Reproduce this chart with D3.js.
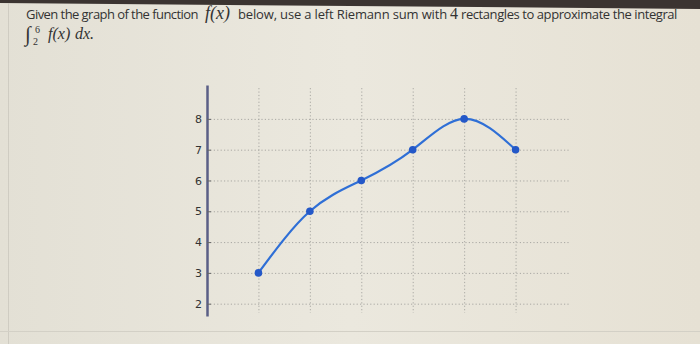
<!DOCTYPE html>
<html>
<head>
<meta charset="utf-8">
<script src="https://cdn.jsdelivr.net/npm/d3@7"></script>
<style>
html,body{margin:0;padding:0;background:#e7e4d9;}
svg{display:block;}
</style>
</head>
<body>
<svg id="chart" width="700" height="344"></svg>
<script>
// Data
const xValues = [1, 2, 3, 4, 5, 6];
const yValues = [3, 5, 6, 7, 8, 7];
const yTicks = [2, 3, 4, 5, 6, 7, 8];
const xGrid = [1, 2, 3, 4, 5, 6];
const questionParts = [
  {text: "Given the graph of the function", math: false, x0: 26, x1: 198},
  {text: "f(x)", math: true, x0: 205, x1: 232},
  {text: "below, use a left Riemann sum with", math: false, x0: 238, x1: 447},
  {text: "4", math: "num", x0: 450, x1: 457},
  {text: "rectangles to approximate the integral", math: false, x0: 461, x1: 677}
];

const svg = d3.select("#chart");
const W = 700, H = 344;

// background with subtle gradient (photo look)
const defs = svg.append("defs");
const grad = defs.append("linearGradient").attr("id","bg").attr("x1","0").attr("x2","1").attr("y1","0").attr("y2","0");
grad.append("stop").attr("offset","0").attr("stop-color","#e3e0d5");
grad.append("stop").attr("offset","0.5").attr("stop-color","#ebe8de");
grad.append("stop").attr("offset","1").attr("stop-color","#e6e1d4");
svg.append("rect").attr("width",W).attr("height",H).attr("fill","url(#bg)");

// dark top band
svg.append("path").attr("d","M0,0H700V9L0,3Z").attr("fill","#3b3431");
// left border line and bottom divider
svg.append("line").attr("x1",8.5).attr("x2",8.5).attr("y1",3).attr("y2",344).attr("stroke","#cfccc2").attr("stroke-width",1);
svg.append("line").attr("x1",0).attr("x2",700).attr("y1",331.5).attr("y2",331.5).attr("stroke","#d3d0c6").attr("stroke-width",1);

// Title text segments: fit each into its span with letter-spacing
svg.append("g").selectAll("text").data(questionParts).join("text")
  .attr("x", d => d.x0).attr("y", 19)
  .attr("font-family", d => d.math ? "'Liberation Serif', serif" : "'Open Sans', sans-serif")
  .attr("font-style", d => d.math === true ? "italic" : "normal")
  .attr("font-size", d => d.math === true ? 18 : (d.math ? 16 : 13))
  .attr("fill", "#333")
  .text(d => d.text)
  .each(function(d) {
    if (d.math) return;
    const natural = this.getComputedTextLength();
    const n = d.text.length;
    const ls = (d.x1 - d.x0 - natural) / n;
    d3.select(this).attr("letter-spacing", ls.toFixed(3));
  });

// second line: integral
const g2 = svg.append("g").attr("fill","#333").attr("font-family","'Liberation Serif', serif");
g2.append("text").attr("x",25).attr("y",41).attr("font-size",21).attr("font-style","italic").text("∫");
g2.append("text").attr("x",35).attr("y",33).attr("font-size",10).text("6");
g2.append("text").attr("x",33).attr("y",45).attr("font-size",10).text("2");
g2.append("text").attr("x",48).attr("y",39).attr("font-style","italic").attr("font-size",16).text("f(x)");
g2.append("text").attr("x",75).attr("y",39).attr("font-style","italic").attr("font-size",16).text("dx.");

// Scales
const x = d3.scaleLinear().domain([0, 7]).range([207, 567]);
const y = d3.scaleLinear().domain([1.6, 9.1]).range([316, 85]);

// grid
const grid = svg.append("g").attr("stroke","#a9a8a3").attr("stroke-width",1).attr("stroke-dasharray","1.2,2.2");
grid.selectAll("line.h").data(yTicks).join("line").attr("class","h")
  .attr("x1",x(0)).attr("x2",570).attr("y1",d=>y(d)+0.5).attr("y2",d=>y(d)+0.5);
grid.selectAll("line.v").data(xGrid).join("line").attr("class","v")
  .attr("x1",d=>x(d)+0.5).attr("x2",d=>x(d)+0.5).attr("y1",y(9.0)).attr("y2",y(1.7));

// y axis
const yAxis = d3.axisLeft(y).tickValues(yTicks).tickSize(4).tickSizeOuter(0).tickPadding(1);
const ya = svg.append("g").attr("transform",`translate(${x(0)},0)`).call(yAxis);
ya.select(".domain").attr("stroke","#5b5f86").attr("stroke-width",2.5);
ya.selectAll(".tick line").attr("stroke","#666").attr("x2",4);
ya.selectAll(".tick text").attr("font-family","'DejaVu Sans', sans-serif").attr("font-size",11).attr("fill","#333");

// curve
const pts = xValues.map((v,i)=>[v, yValues[i]]);
const line = d3.line().x(d=>x(d[0])).y(d=>y(d[1])).curve(d3.curveNatural);
svg.append("path").datum(pts).attr("d",line).attr("fill","none").attr("stroke","#2f6fd6").attr("stroke-width",2.2);

svg.selectAll("circle.pt").data(pts).join("circle").attr("class","pt")
  .attr("cx",d=>x(d[0])).attr("cy",d=>y(d[1])).attr("r",3.8).attr("fill","#2458c8");
</script>
</body>
</html>
